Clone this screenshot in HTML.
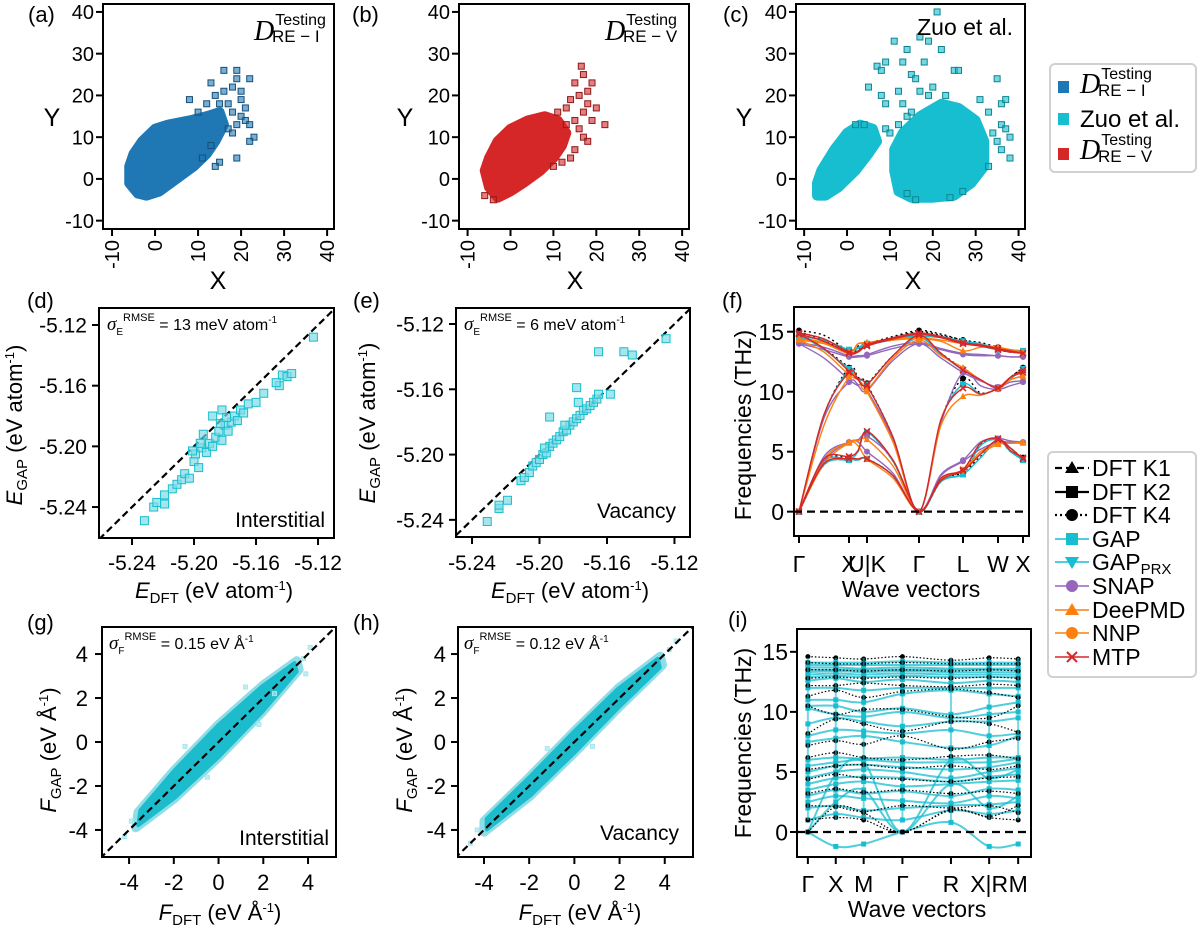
<!DOCTYPE html>
<html><head><meta charset="utf-8">
<style>
html,body{margin:0;padding:0;background:#fff;}
svg{display:block;font-family:"Liberation Sans",sans-serif;}
</style></head>
<body>
<svg id="fig" width="1200" height="928" viewBox="0 0 1200 928">
<rect x="0" y="0" width="1200" height="928" fill="#fff"/>
</svg>
<script>
// ---------- DATA ----------
// (a) RE-I testing set
const hullA = [[-6,3],[-6,-1],[-4,-3.5],[-2,-4],[1,-3],[5,0],[9,3],[12,6],[14,9],[16,13],[15,16],[12,15],[8,14],[3,13],[0,12],[-3,9],[-5,6]];
const ptsA = [[16,26],[19,26],[22,24],[13,23],[18,22],[20,21],[8,19],[14,20],[17,18],[21,17],[23,10],[22,9],[19,5],[15,4],[14,3],[21,14],[19,13],[12,18],[10,16],[18,16],[20,19],[11,5],[13,8],[17,12],[22,13],[15,18],[19,24],[16,21],[20,15],[18,11]];
// (b) RE-V testing set
const hullB = [[-6,2],[-5,-2],[-3,-4.5],[0,-3],[3,-1],[7,2],[10,5],[12,8],[13,11],[11,14],[8,15],[4,14],[0,12],[-3,9],[-5,5]];
const ptsB = [[16.5,27],[17,25],[15,23],[18,21],[16,20],[14,19],[18,18],[13,17],[17,16],[22,13],[19,14],[15,14],[13,13],[17,10],[15,7],[14,5],[12,4],[10,3],[18,9],[16,12],[20,17],[11,16],[19,23],[-6,-4],[-4,-5]];
// (c) Zuo et al.
const hullC1 = [[-7,-1],[-7,-4],[-5,-4],[-2,-2],[2,2],[5,6],[7,9],[6,12],[3,13],[0,11],[-3,7],[-6,2]];
const hullC2 = [[11,2],[12,-3],[15,-4.5],[20,-4.5],[25,-4],[29,-1],[32,3],[32,9],[30,14],[26,17],[22,18],[17,15],[13,11],[11,7]];
const ptsC = [[21,40],[17,34],[19,33],[11,33],[14,31],[22,31],[9,28],[13,28],[18,28],[7,27],[8,26],[15,25],[16,24],[25,26],[26,26],[35,24],[5,22],[12,21],[17,21],[20,22],[19,20],[23,20],[8,20],[9,18],[13,18],[31,19],[36,18],[37,19],[33,16],[36,13],[37,12],[38,10],[38,5],[35,9],[36,7],[33,3],[34,11],[2,13],[4,13],[9,12],[10,11],[12,13],[14,15],[15,16],[16,-5],[14,-3.5],[27,-3],[24,-4.5]];
// (d) interstitial energies [DFT, GAP]
const ptsD = [[-5.232,-5.249],[-5.226,-5.240],[-5.224,-5.237],[-5.219,-5.238],[-5.219,-5.232],[-5.214,-5.228],[-5.211,-5.225],[-5.208,-5.222],[-5.206,-5.218],[-5.203,-5.221],[-5.200,-5.210],[-5.199,-5.205],[-5.197,-5.214],[-5.195,-5.201],[-5.192,-5.204],[-5.190,-5.198],[-5.188,-5.200],[-5.186,-5.194],[-5.184,-5.190],[-5.182,-5.196],[-5.180,-5.186],[-5.178,-5.190],[-5.176,-5.184],[-5.174,-5.180],[-5.172,-5.183],[-5.170,-5.176],[-5.168,-5.178],[-5.165,-5.172],[-5.160,-5.171],[-5.155,-5.165],[-5.188,-5.180],[-5.194,-5.192],[-5.183,-5.185],[-5.145,-5.160],[-5.143,-5.153],[-5.140,-5.154],[-5.147,-5.158],[-5.137,-5.152],[-5.123,-5.128],[-5.182,-5.176],[-5.201,-5.203],[-5.196,-5.198],[-5.179,-5.181]];
// (e) vacancy energies [DFT, GAP]
const ptsE = [[-5.231,-5.241],[-5.224,-5.233],[-5.224,-5.231],[-5.219,-5.228],[-5.211,-5.216],[-5.209,-5.214],[-5.206,-5.211],[-5.204,-5.207],[-5.202,-5.205],[-5.200,-5.203],[-5.198,-5.200],[-5.196,-5.199],[-5.194,-5.195],[-5.192,-5.193],[-5.190,-5.191],[-5.188,-5.189],[-5.186,-5.186],[-5.184,-5.185],[-5.182,-5.182],[-5.180,-5.180],[-5.178,-5.178],[-5.176,-5.176],[-5.174,-5.173],[-5.172,-5.172],[-5.170,-5.170],[-5.168,-5.168],[-5.166,-5.166],[-5.165,-5.163],[-5.194,-5.177],[-5.178,-5.159],[-5.177,-5.168],[-5.165,-5.137],[-5.150,-5.137],[-5.145,-5.139],[-5.158,-5.163],[-5.125,-5.129],[-5.197,-5.196],[-5.185,-5.182]];
// (g)/(h) force clouds: hull outlines + sparse points
const hullG = [[-3.6,-3.2],[-2,-1.3],[0,0.8],[2,2.6],[3.5,3.7],[3.6,3.3],[2,1.4],[0,-0.7],[-2,-2.6],[-3.7,-3.9]];
const ptsG = [[-4.2,-4.3],[-3.9,-3.6],[3.8,3.8],[4.1,4.3],[3.9,3.1],[-1.5,-0.2],[1.2,2.5],[-0.5,-1.6],[2.5,2.2],[1.8,0.8]];
const hullH = [[-4,-3.6],[-2,-1.6],[0,0.5],[2,2.5],[3.8,3.9],[3.9,3.5],[2,1.6],[0,-0.5],[-2,-2.5],[-4,-4.1]];
const ptsH = [[-4.6,-4.6],[-4.3,-4.0],[4.5,4.6],[4.2,4.2],[-1.2,-0.3],[0.8,-0.2]];
// (f) phonon dispersion, path Γ-X-U|K-Γ-L-W-X with mid-points
const kF = [0,0.5,1,1.18,1.36,1.88,2.4,2.84,3.28,3.63,3.98,4.23,4.48];
const kLabF = ['Γ','X','U|K','Γ','L','W','X'];
const kTickF = [0,1,1.36,2.4,3.28,3.98,4.48];
const bandsDFT = [
 [0,3.9,4.3,4.3,4.4,3.0,0,2.5,3.3,4.6,5.9,5.3,4.4],
 [0,4.3,4.5,5.0,6.6,4.2,0,2.7,3.4,5.6,6.0,5.0,4.5],
 [0,8.0,12.0,11.2,10.6,6.2,0,7.6,11.1,9.9,10.3,11.2,12.0],
 [15,13.6,12.0,11.0,10.7,13.0,14.5,13.2,11.9,11.0,10.3,11.2,12.0],
 [15,14.3,13.3,13.5,13.9,14.5,15,14.7,14.3,13.9,13.5,13.3,13.3],
 [15.1,14.7,13.4,13.8,14.0,14.6,15.1,14.8,14.3,14.1,13.7,13.5,13.3]];
const bandsGAP = [
 [0,3.9,4.3,4.3,4.4,3.0,0,2.5,3.1,4.5,5.9,5.3,4.3],
 [0,4.2,4.4,5.0,6.6,4.2,0,2.6,3.2,5.5,6.0,5.0,4.3],
 [0,8.0,11.8,11.0,10.5,6.2,0,7.6,10.6,9.8,10.3,11.1,11.8],
 [14.8,13.5,11.9,11.0,10.6,13.0,14.5,13.1,11.8,11.0,10.3,11.1,11.9],
 [14.5,14.1,13.4,13.6,13.9,14.3,14.6,14.5,14.2,13.8,13.5,13.4,13.4],
 [14.6,14.3,13.5,13.7,14.0,14.4,14.7,14.6,14.2,14.0,13.6,13.5,13.4]];
const bandsSNAP = [
 [0,4.2,5.8,5.8,5.0,3.2,0,3.0,4.2,5.2,5.8,5.8,5.8],
 [0,4.6,5.8,6.0,6.3,4.3,0,3.1,4.3,5.8,6.1,5.9,5.8],
 [0,7.8,10.8,10.6,10.1,6.0,0,7.4,11.6,10.5,10.2,10.5,10.8],
 [14.0,12.8,11.0,10.5,10.1,12.6,14.0,12.8,11.6,10.9,10.4,10.8,10.9],
 [14.0,13.5,12.9,12.9,13.0,13.6,14.0,13.5,13.1,13.0,13.0,12.9,12.9],
 [14.1,13.7,13.0,13.0,13.1,13.8,14.1,13.6,13.2,13.1,13.0,12.9,12.9]];
const bandsDeePMD = [
 [0,4.0,5.7,5.5,4.4,2.8,0,2.6,3.4,4.8,5.6,5.7,5.7],
 [0,4.4,5.8,5.9,6.0,3.8,0,2.7,3.5,5.0,5.7,5.7,5.8],
 [0,7.2,11.2,11.0,10.0,5.8,0,7.2,9.6,9.7,10.3,11.0,11.3],
 [14.3,13.3,11.4,11.0,10.2,12.8,14.3,13.0,12.0,11.0,10.3,11.0,11.3],
 [14.3,14.0,13.2,14.0,14.0,14.3,14.4,14.2,13.4,13.7,13.7,13.4,13.2],
 [14.4,14.1,13.3,14.0,14.1,14.4,14.5,14.3,14.0,13.9,13.7,13.5,13.3]];
const bandsMTP = [
 [0,4.0,4.4,4.4,4.4,3.0,0,2.6,3.4,4.8,6.0,5.3,4.4],
 [0,4.4,4.6,5.1,6.7,4.3,0,2.8,3.5,5.7,6.1,5.1,4.5],
 [0,8.1,11.6,11.1,10.5,6.2,0,7.7,10.3,9.8,10.3,11.2,11.6],
 [14.8,13.6,11.7,11.0,10.6,13.0,14.7,13.2,11.8,11.0,10.3,11.2,11.8],
 [14.8,14.2,13.2,13.3,13.8,14.4,14.8,14.5,14.0,13.8,13.5,13.3,13.2],
 [14.9,14.4,13.3,13.4,13.9,14.5,14.9,14.6,14.1,13.9,13.6,13.4,13.2]];
// (i) phonon dispersion, path Γ-X-M-Γ-R-X|R-M
const kI = [0,1,2,3.39,5.13,6.5,7.54];
const kLabI = ['Γ','X','M','Γ','R','X|R','M'];
const bandsI_GAP = [
 [0,-1.2,-1,0,0.8,-1.2,-1],[1,1.5,1.2,1,1.8,1.5,1.8],[2,2.2,1.8,2,2.2,2.3,2.5],[2.5,3,2.8,2.6,2.4,3,2.8],
 [3,3.5,3.2,3.4,3,3.6,3.5],[3.5,4,4.2,3.8,4,4.2,4.3],[4,4.5,4.6,4.5,4.2,4.6,4.8],[4.5,5,5.2,5,4.5,5,5.3],
 [5,5.5,5.6,5.4,5.2,5.4,5.8],[5.5,5.8,6,5.8,5.8,5.8,6.1],[6,6.2,6.1,6.2,6,6.2,6.2],[7.5,7.8,8,7.5,7,7.2,8],
 [8,8.5,8.4,8.2,8.5,8,8.2],[9,9.5,9.2,8.8,9.2,9.2,9.5],[10.3,9.8,9.6,10,9.5,9.8,10],[10.5,10.5,10,10.3,9.8,10.4,10.8],
 [11,11,10.8,11.5,11.8,11.5,11.3],[12,12,11.8,12,12,12,12],[12.6,12.8,12.5,12.7,12.4,12.6,12.5],[12.9,13,12.9,13,12.9,12.9,12.9],
 [13.1,13.2,13.1,13.2,13.1,13.1,13.1],[13.3,13.4,13.3,13.4,13.3,13.3,13.3],[13.5,13.5,13.5,13.5,13.5,13.5,13.5],[13.7,13.7,13.6,13.7,13.6,13.6,13.6],
 [13.9,13.9,13.9,13.9,13.9,13.9,13.9],[14.1,14.1,14.1,14.2,14.1,14.1,14.1],[0,2.5,3.5,0,4,2,3],[0,4.8,5.8,0,6,4.5,5.2]];
const bandsI_DFT = [
 [1,1.2,1,0,1.8,1.2,1],[2.2,2.1,1.7,2.2,2,2.2,1.6],[3.2,3.6,3.3,3.5,3.2,3.4,3.2],[4.4,4.8,4.5,4.4,4.2,4.5,4.6],
 [5.2,5.5,5.6,5.3,5.5,5.2,5.5],[6.2,6.6,6.2,6,6.3,6.4,6.1],[7.2,7.6,7.3,8,6.9,7.5,7.8],[8.2,9.4,9,8.4,9.2,9,8.3],
 [10.5,9.8,10.2,10.2,9.6,9.5,10.5],[11.3,11.8,11.2,11.7,11.9,11.6,11.2],[12.2,12.2,12.4,12.2,12.1,12.3,12.2],[12.8,12.9,12.8,12.9,12.8,12.9,12.8],
 [13.5,13.5,13.4,13.5,13.4,13.5,13.4],[14.1,14.0,14.0,14.1,14.0,14.0,14.0],[14.6,14.5,14.4,14.6,14.3,14.5,14.4],[0,2.1,1.6,0,1.9,1.3,2.2]];
// tick values
const ticksXY1 = [-10,0,10,20,30,40];
const ticksE = [-5.24,-5.20,-5.16,-5.12];
const ticksF = [-4,-2,0,2,4];
const ticksFreq = [0,5,10,15];

// ---------- HELPERS ----------
const fig = document.getElementById('fig');
const NSU = fig.namespaceURI;
function mk(tag, attrs, parent){ const e=document.createElementNS(NSU,tag); for(const k in attrs) e.setAttribute(k,attrs[k]); (parent||fig).appendChild(e); return e; }
function lin(d0,d1,r0,r1){ return v=> r0+(v-d0)/(d1-d0)*(r1-r0); }
function smoothPath(pts){
  let d='M'+pts[0][0].toFixed(1)+','+pts[0][1].toFixed(1);
  for(let i=0;i<pts.length-1;i++){
    const p0=pts[Math.max(0,i-1)],p1=pts[i],p2=pts[i+1],p3=pts[Math.min(pts.length-1,i+2)];
    const c1=[p1[0]+(p2[0]-p0[0])/6,p1[1]+(p2[1]-p0[1])/6], c2=[p2[0]-(p3[0]-p1[0])/6,p2[1]-(p3[1]-p1[1])/6];
    d+='C'+c1[0].toFixed(1)+','+c1[1].toFixed(1)+' '+c2[0].toFixed(1)+','+c2[1].toFixed(1)+' '+p2[0].toFixed(1)+','+p2[1].toFixed(1);
  }
  return d;
}
function panel(name, box, xd, yd){
  const g=mk('g',{});
  
  
  const clip=mk('clipPath',{id:name+'-clip'},g);
  mk('rect',{x:box[0],y:box[1],width:box[2],height:box[3]},clip);
  const plot=mk('g',{'clip-path':'url(#'+name+'-clip)'},g);
  
  
  return {g, plot, box, sx:lin(xd[0],xd[1],box[0],box[0]+box[2]), sy:lin(yd[0],yd[1],box[1]+box[3],box[1])};
}
function frame(P){
  const r=mk('rect',{x:P.box[0],y:P.box[1],width:P.box[2],height:P.box[3],fill:'none',stroke:'#000','stroke-width':2},P.g);
  
  
}
function xTicks(P, vals, labels, fs, rotate, labY){
  const yb=P.box[1]+P.box[3];
  vals.forEach((v,i)=>{
    const x=P.sx(v);
    const t=mk('line',{x1:x,x2:x,y1:yb,y2:yb+7,stroke:'#000','stroke-width':2},P.g);
    
    
    let tx;
    if(rotate){ tx=mk('text',{x:x+7,y:labY,'font-size':fs,'text-anchor':'end',transform:'rotate(-90 '+(x+7)+' '+labY+')'},P.g); }
    else { tx=mk('text',{x:x,y:labY,'font-size':fs,'text-anchor':'middle'},P.g); }
    tx.textContent=labels[i];
    
    
  });
}
function yTicks(P, vals, labels, fs, rx){
  vals.forEach((v,i)=>{
    const y=P.sy(v);
    const t=mk('line',{x1:P.box[0]-7,x2:P.box[0],y1:y,y2:y,stroke:'#000','stroke-width':2},P.g);
    
    
    const tx=mk('text',{x:rx,y:y+fs*0.36,'font-size':fs,'text-anchor':'end'},P.g);
    tx.textContent=labels[i];
    
    
  });
}
function label(txt,x,y,fs,name,extra){
  const t=mk('text',Object.assign({x:x,y:y,'font-size':fs},extra||{}));
  t.innerHTML=txt;
  
  
  return t;
}
function hull(P, pts, fill, sw){
  const p=mk('polygon',{points:pts.map(q=>P.sx(q[0])+','+P.sy(q[1])).join(' '),fill:fill,stroke:fill,'stroke-width':sw,'stroke-linejoin':'round'},P.plot);
  
  
}
function squares(P, pts, fill, stroke, s, op){
  pts.forEach(q=>{
    const r=mk('rect',{x:P.sx(q[0])-s/2,y:P.sy(q[1])-s/2,width:s,height:s,fill:fill,stroke:stroke,'stroke-width':1,'fill-opacity':op},P.plot);
    
    
  });
}
function fmt2(v){ return v.toFixed(2).replace('-','-'); }

// ---------- ROW 1 ----------
const row1 = [
 {name:'panel-a',box:[103,4,231,225],xd:[-12.1,41.6],hull:[hullA],pts:ptsA,fill:'#1f77b4',edge:'#15507a',lab:'(a)',lx:28,yl:52,xl:218},
 {name:'panel-b',box:[459,4,230,225],xd:[-12,41.6],hull:[hullB],pts:ptsB,fill:'#d62728',edge:'#8e1a1a',lab:'(b)',lx:352,yl:405,xl:575},
 {name:'panel-c',box:[796,4,229,225],xd:[-11.9,41.5],hull:[hullC1,hullC2],pts:ptsC,fill:'#17becf',edge:'#0f8591',lab:'(c)',lx:723,yl:744,xl:913}
];
row1.forEach(c=>{
  const P=panel(c.name,c.box,c.xd,[-12,41.9]);
  c.hull.forEach(h=>hull(P,h,c.fill,10));
  squares(P,c.pts,c.fill,c.edge,6,0.6);
  frame(P);
  xTicks(P,ticksXY1,ticksXY1.map(String),20,true,240);
  yTicks(P,ticksXY1,ticksXY1.map(String),20,c.box[0]-9);
  label(c.lab,c.lx,22,22,'panel-label');
  label('Y',c.yl,126,25,'y-axis-title',{'text-anchor':'middle'});
  label('X',c.xl,289,25,'x-axis-title',{'text-anchor':'middle'});
});
label('<tspan font-family="Liberation Serif" font-style="italic" font-size="28">D</tspan><tspan font-size="16" dx="1" dy="-15">Testing</tspan><tspan font-size="17" dx="-54" dy="17">RE − I</tspan>',254,40,16,'dataset-annotation');
label('<tspan font-family="Liberation Serif" font-style="italic" font-size="28">D</tspan><tspan font-size="16" dx="1" dy="-15">Testing</tspan><tspan font-size="17" dx="-54" dy="17">RE − V</tspan>',605,40,16,'dataset-annotation');
label('Zuo et al.',1013,35,23,'dataset-annotation',{'text-anchor':'end'});

// legend 1
const lg1=mk('g',{});


const lb1=mk('rect',{x:1050,y:64,width:146,height:108,rx:5,fill:'#fff',stroke:'#d0d0d0','stroke-width':2},lg1);


const legItems1=[['#1f77b4',87,'<tspan font-family="Liberation Serif" font-style="italic" font-size="28">D</tspan><tspan font-size="16" dx="1" dy="-14">Testing</tspan><tspan font-size="17" dx="-54" dy="17">RE − I</tspan>',93],['#17becf',119,'Zuo et al.',127],['#d62728',154,'<tspan font-family="Liberation Serif" font-style="italic" font-size="28">D</tspan><tspan font-size="16" dx="1" dy="-14">Testing</tspan><tspan font-size="17" dx="-54" dy="17">RE − V</tspan>',159]];
legItems1.forEach(it=>{
  const s=mk('rect',{x:1058,y:it[1]-6,width:11,height:12,fill:it[0]},lg1);
  
  
  const t=mk('text',{x:1080,y:it[3],'font-size':24},lg1);
  t.innerHTML=it[2];
  
  
});

// ---------- ROW 2 ----------
function energyPanel(name, box, xd, yd, pts, ticksYR, lab, lx, ylx, yly, xlx, note, tag, tagx, tagy, notex){
  const P=panel(name,box,xd,yd);
  const d=mk('line',{x1:P.sx(xd[0]),y1:P.sy(xd[0]),x2:P.sx(xd[1]),y2:P.sy(xd[1]),stroke:'#000','stroke-width':2.2,'stroke-dasharray':'7,4'},P.plot);
  
  
  squares(P,pts,'#7fdbe6','#17becf',8,0.7);
  frame(P);
  xTicks(P,ticksE,ticksE.map(fmt2),21,false,570);
  yTicks(P,ticksE,ticksE.map(fmt2),21,ticksYR);
  label(lab,lx,308,22,'panel-label');
  label('<tspan font-style="italic">E</tspan><tspan font-size="15" dy="5">GAP</tspan><tspan dy="-5"> (eV atom</tspan><tspan font-size="13" dy="-8">-1</tspan><tspan dy="8">)</tspan>',ylx,yly,22,'y-axis-title',{'text-anchor':'middle',transform:'rotate(-90 '+ylx+' '+yly+')'});
  label('<tspan font-style="italic">E</tspan><tspan font-size="15" dy="5">DFT</tspan><tspan dy="-5"> (eV atom</tspan><tspan font-size="13" dy="-8">-1</tspan><tspan dy="8">)</tspan>',xlx,598,22,'x-axis-title',{'text-anchor':'middle'});
  label('<tspan font-family="Liberation Serif" font-style="italic" font-size="19">σ</tspan><tspan font-size="10" dy="5">E</tspan><tspan font-size="11" dy="-14">RMSE</tspan><tspan dy="9"> = '+note+' meV atom</tspan><tspan font-size="10" dy="-7">-1</tspan>',notex,330,16,'rmse-annotation');
  label(tag,tagx,tagy,21,'defect-type-label',{'text-anchor':'end'});
}
energyPanel('panel-d',[99,308,235,230],[-5.2613,-5.1097],[-5.2604,-5.1088],ptsD,87,'(d)',27,22,425,214,'13','Interstitial',325,527,107);
energyPanel('panel-e',[456,308,234,229],[-5.2495,-5.1108],[-5.2505,-5.1102],ptsE,444,'(e)',353,375,423,570,'6','Vacancy',676,518,464);

// (f)
const PF=panel('panel-f',[794,307,235,229],[-0.1,4.6],[-2.03,17.06]);
const seriesF=[
 {name:'dft-k4',bands:bandsDFT,color:'#000',dash:'2,3',mk:'circle'},
 {name:'gap',bands:bandsGAP,color:'#17becf',dash:'',mk:'square'},
 {name:'snap',bands:bandsSNAP,color:'#9467bd',dash:'',mk:'circle'},
 {name:'deepmd',bands:bandsDeePMD,color:'#ff7f0e',dash:'',mk:'tri'},
 {name:'mtp',bands:bandsMTP,color:'#d62728',dash:'',mk:'x'}
];
function marker(P, type, x, y, color, s){
  let m;
  if(type==='square') m=mk('rect',{x:x-s/2,y:y-s/2,width:s,height:s,fill:color},P.plot);
  else if(type==='tri') m=mk('polygon',{points:(x)+','+(y-s/1.6)+' '+(x-s/1.8)+','+(y+s/2.4)+' '+(x+s/1.8)+','+(y+s/2.4),fill:color},P.plot);
  else if(type==='x') m=mk('path',{d:'M'+(x-s/2)+','+(y-s/2)+'L'+(x+s/2)+','+(y+s/2)+'M'+(x-s/2)+','+(y+s/2)+'L'+(x+s/2)+','+(y-s/2),stroke:color,'stroke-width':1.5},P.plot);
  else m=mk('circle',{cx:x,cy:y,r:s/2,fill:color},P.plot);
  return m;
}
seriesF.forEach(s=>{
  s.bands.forEach(b=>{
    const pts=b.map((v,i)=>[PF.sx(kF[i]),PF.sy(v)]);
    const p=mk('path',{d:smoothPath(pts),fill:'none',stroke:s.color,'stroke-width':1.4,'stroke-dasharray':s.dash},PF.plot);
    
    
    b.forEach((v,i)=>{ if(i%2===0){
      const m=marker(PF,s.mk,PF.sx(kF[i]),PF.sy(v),s.color,6);
      
      
    }});
  });
});
const z1=mk('line',{x1:PF.box[0],x2:PF.box[0]+PF.box[2],y1:PF.sy(0),y2:PF.sy(0),stroke:'#000','stroke-width':2.2,'stroke-dasharray':'8,5'},PF.plot);


frame(PF);
xTicks(PF,kTickF,kLabF,23,false,572);
yTicks(PF,ticksFreq,ticksFreq.map(String),23,784);
label('(f)',722,308,22,'panel-label');
label('Frequencies (THz)',751,425,23,'y-axis-title',{'text-anchor':'middle',transform:'rotate(-90 751 425)'});
label('Wave vectors',911,597,23,'x-axis-title',{'text-anchor':'middle'});

// legend 2
const lg2=mk('g',{});


const lb2=mk('rect',{x:1048,y:452,width:148,height:225,rx:5,fill:'#fff',stroke:'#d0d0d0','stroke-width':2},lg2);


const legItems2=[['DFT K1','#000','7,4','tri',468],['DFT K2','#000','','square',492],['DFT K4','#000','2,3','circle',515],['GAP','#17becf','','square',539],['GAP<tspan font-size="15" dy="4">PRX</tspan>','#17becf','','tridown',562],['SNAP','#9467bd','','circle',586],['DeePMD','#ff7f0e','','tri',610],['NNP','#ff7f0e','','circle',633],['MTP','#d62728','','x',657]];
legItems2.forEach(it=>{
  const l=mk('line',{x1:1055,x2:1089,y1:it[4],y2:it[4],stroke:it[1],'stroke-width':it[1]==='#000'?2.2:1.4,'stroke-dasharray':it[2]},lg2);
  
  
  let m;
  const x=1072,y=it[4],s=12;
  if(it[3]==='square') m=mk('rect',{x:x-s/2,y:y-s/2,width:s,height:s,fill:it[1]},lg2);
  else if(it[3]==='tri') m=mk('polygon',{points:x+','+(y-7)+' '+(x-7)+','+(y+5)+' '+(x+7)+','+(y+5),fill:it[1]},lg2);
  else if(it[3]==='tridown') m=mk('polygon',{points:x+','+(y+7)+' '+(x-7)+','+(y-5)+' '+(x+7)+','+(y-5),fill:it[1]},lg2);
  else if(it[3]==='x') m=mk('path',{d:'M1067,652L1077,662M1067,662L1077,652',stroke:it[1],'stroke-width':2},lg2);
  else m=mk('circle',{cx:x,cy:y,r:6,fill:it[1]},lg2);
  
  
  const t=mk('text',{x:1092,y:it[4]+8,'font-size':23},lg2);
  t.innerHTML=it[0];
  
  
});

// ---------- ROW 3 ----------
function forcePanel(name, box, xd, hullPts, pts, lab, lx, ylx, yrx, xlx, note, tag, tagx, tagy, notex){
  const P=panel(name,box,xd,[-5.23,5.23]);
  hull(P,hullPts,'#8fdde6',9);
  hull(P,hullPts.map(q=>[q[0]*0.97,q[1]*0.97]),'#1cbccc',4);
  squares(P,pts,'#a8e6ee','#a8e6ee',4,0.7);
  const d=mk('line',{x1:P.sx(-5.3),y1:P.sy(-5.3),x2:P.sx(5.3),y2:P.sy(5.3),stroke:'#000','stroke-width':2.2,'stroke-dasharray':'7,4'},P.plot);
  
  
  frame(P);
  xTicks(P,ticksF,ticksF.map(String),22,false,890);
  yTicks(P,ticksF,ticksF.map(String),22,yrx);
  label(lab,lx,630,22,'panel-label');
  label('<tspan font-style="italic">F</tspan><tspan font-size="15" dy="5">GAP</tspan><tspan dy="-5"> (eV Å</tspan><tspan font-size="13" dy="-8">-1</tspan><tspan dy="8">)</tspan>',ylx,750,22,'y-axis-title',{'text-anchor':'middle',transform:'rotate(-90 '+ylx+' 750)'});
  label('<tspan font-style="italic">F</tspan><tspan font-size="15" dy="5">DFT</tspan><tspan dy="-5"> (eV Å</tspan><tspan font-size="13" dy="-8">-1</tspan><tspan dy="8">)</tspan>',xlx,920,22,'x-axis-title',{'text-anchor':'middle'});
  label('<tspan font-family="Liberation Serif" font-style="italic" font-size="19">σ</tspan><tspan font-size="10" dy="5">F</tspan><tspan font-size="11" dy="-14">RMSE</tspan><tspan dy="9"> = '+note+' eV Å</tspan><tspan font-size="10" dy="-7">-1</tspan>',notex,649,16,'rmse-annotation');
  label(tag,tagx,tagy,21,'defect-type-label',{'text-anchor':'end'});
}
forcePanel('panel-g',[102,627,234,230],[-5.21,5.25],hullG,ptsG,'(g)',27,56,88,220,'0.15','Interstitial',329,845,109);
forcePanel('panel-h',[458,627,235,230],[-5.15,5.25],hullH,ptsH,'(h)',353,412,446,580,'0.12','Vacancy',679,840,464);

// (i)
const PI=panel('panel-i',[797,629,234,228],[-0.39,8.0],[-2.08,16.9]);
bandsI_GAP.forEach(b=>{
  const pts=b.map((v,i)=>[PI.sx(kI[i]),PI.sy(v)]);
  const p=mk('path',{d:smoothPath(pts),fill:'none',stroke:'#17becf','stroke-width':2,'stroke-opacity':0.75},PI.plot);
  
  
  b.forEach((v,i)=>{
    const m=mk('rect',{x:PI.sx(kI[i])-2.5,y:PI.sy(v)-2.5,width:5,height:5,fill:'#17becf'},PI.plot);
    
    
  });
});
bandsI_DFT.forEach(b=>{
  const pts=b.map((v,i)=>[PI.sx(kI[i]),PI.sy(v)]);
  const p=mk('path',{d:smoothPath(pts),fill:'none',stroke:'#000','stroke-width':1.2,'stroke-dasharray':'1.5,2'},PI.plot);
  
  
  b.forEach((v,i)=>{
    const m=mk('circle',{cx:PI.sx(kI[i]),cy:PI.sy(v),r:2.5,fill:'#000'},PI.plot);
    
    
  });
});
kI.forEach(k=>{
  const v=mk('line',{x1:PI.sx(k),x2:PI.sx(k),y1:PI.sy(1),y2:PI.sy(14.5),stroke:'#17becf','stroke-width':2,'stroke-opacity':0.6},PI.plot);
  
  
});
const z2=mk('line',{x1:PI.box[0],x2:PI.box[0]+PI.box[2],y1:PI.sy(0),y2:PI.sy(0),stroke:'#000','stroke-width':2.2,'stroke-dasharray':'8,5'},PI.plot);


frame(PI);
xTicks(PI,kI,kLabI,23,false,892);
yTicks(PI,ticksFreq,ticksFreq.map(String),23,788);
label('(i)',728,627,22,'panel-label');
label('Frequencies (THz)',751,743,23,'y-axis-title',{'text-anchor':'middle',transform:'rotate(-90 751 743)'});
label('Wave vectors',917,917,23,'x-axis-title',{'text-anchor':'middle'});
</script>
</body></html>
